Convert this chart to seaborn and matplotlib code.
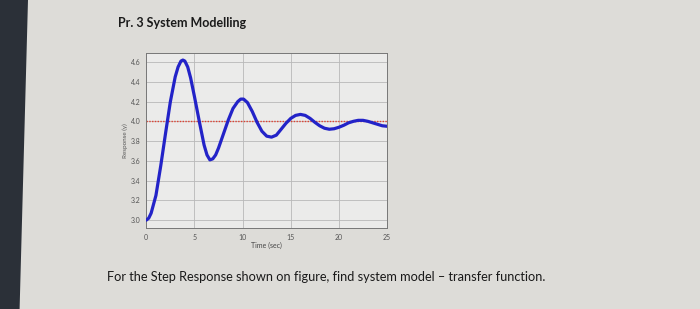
import matplotlib
matplotlib.use("Agg")
import matplotlib.pyplot as plt
import seaborn as sns
import pandas as pd
from matplotlib.patches import Polygon

# ---- data ----
time_s = [0.0, 0.25, 0.5, 1.0, 1.5, 2.0, 2.5, 3.0, 3.3, 3.6, 3.8, 4.0, 4.3, 4.6, 5.0, 5.5,
          6.0, 6.3, 6.6, 6.9, 7.2, 7.5, 8.0, 8.5, 9.0, 9.5, 9.8, 10.1, 10.5, 11.0, 11.5,
          12.0, 12.5, 13.0, 13.5, 14.0, 14.5, 15.0, 15.5, 16.0, 16.5, 17.0, 17.5, 18.0,
          18.5, 19.0, 19.5, 20.0, 20.5, 21.0, 21.5, 22.0, 22.5, 23.0, 23.5, 24.0, 24.5, 25.0]
response = [3.00, 3.02, 3.07, 3.25, 3.55, 3.88, 4.20, 4.45, 4.55, 4.61, 4.62, 4.61, 4.55,
            4.44, 4.25, 4.00, 3.76, 3.66, 3.61, 3.62, 3.66, 3.73, 3.87, 4.01, 4.13, 4.20,
            4.225, 4.225, 4.19, 4.10, 3.99, 3.90, 3.85, 3.84, 3.86, 3.92, 3.98, 4.03, 4.06,
            4.07, 4.06, 4.03, 3.99, 3.955, 3.93, 3.92, 3.925, 3.94, 3.96, 3.985, 4.00,
            4.01, 4.01, 4.00, 3.985, 3.97, 3.955, 3.95]
final_value = 4.0
x_ticks = [0, 5, 10, 15, 20, 25]
y_ticks = [3.0, 3.2, 3.4, 3.6, 3.8, 4.0, 4.2, 4.4, 4.6]
title_text = "Pr. 3 System Modelling"
caption_text = "For the Step Response shown on figure, find system model \u2013 transfer function."
x_label = "Time (sec)"
y_label = "Response (y)"

df = pd.DataFrame({"t": time_s, "y": response})

sns.set_theme(style="whitegrid")
plt.rcParams["font.family"] = ["Lato", "DejaVu Sans"]

fig = plt.figure(figsize=(7.0, 3.09), dpi=100, facecolor="#dddcd8")

# dark edge of the photo at the left
fig.patches.append(Polygon([[0, 0], [0.028, 0], [0.040, 1], [0, 1]], closed=True,
                           transform=fig.transFigure, facecolor="#2b3038",
                           edgecolor="none", zorder=0))

ax = fig.add_axes([0.209, 0.262, 0.344, 0.566])
ax.set_facecolor("#ebebea")

ax.axhline(final_value, color="#e04030", linestyle=(0, (1, 1)), linewidth=1.0, zorder=2)
sns.lineplot(data=df, x="t", y="y", ax=ax, color="#2323c8", linewidth=2.3, zorder=3)

ax.set_xlim(0, 25)
ax.set_ylim(2.92, 4.69)
ax.set_xticks(x_ticks)
ax.set_yticks(y_ticks)
ax.set_xticklabels([str(v) for v in x_ticks])
ax.set_yticklabels([f"{v:.1f}" for v in y_ticks])
ax.tick_params(labelsize=5, colors="#555555", length=2, pad=2)
ax.set_xlabel(x_label, fontsize=5, color="#444444", labelpad=1)
ax.set_ylabel(y_label, fontsize=4.5, color="#555555", labelpad=2)
ax.grid(True, color="#b8b8b8", linewidth=0.6)
for s in ax.spines.values():
    s.set_visible(True)
    s.set_color("#777777")
    s.set_linewidth(0.7)

fig.text(0.168, 0.925, title_text, fontsize=9.0, fontweight="bold", color="#1a1a1a",
         ha="left", va="center")
fig.text(0.153, 0.105, caption_text, fontsize=9.2, color="#1a1a1a", ha="left", va="center")

fig.savefig("out.png", dpi=100, facecolor=fig.get_facecolor())
